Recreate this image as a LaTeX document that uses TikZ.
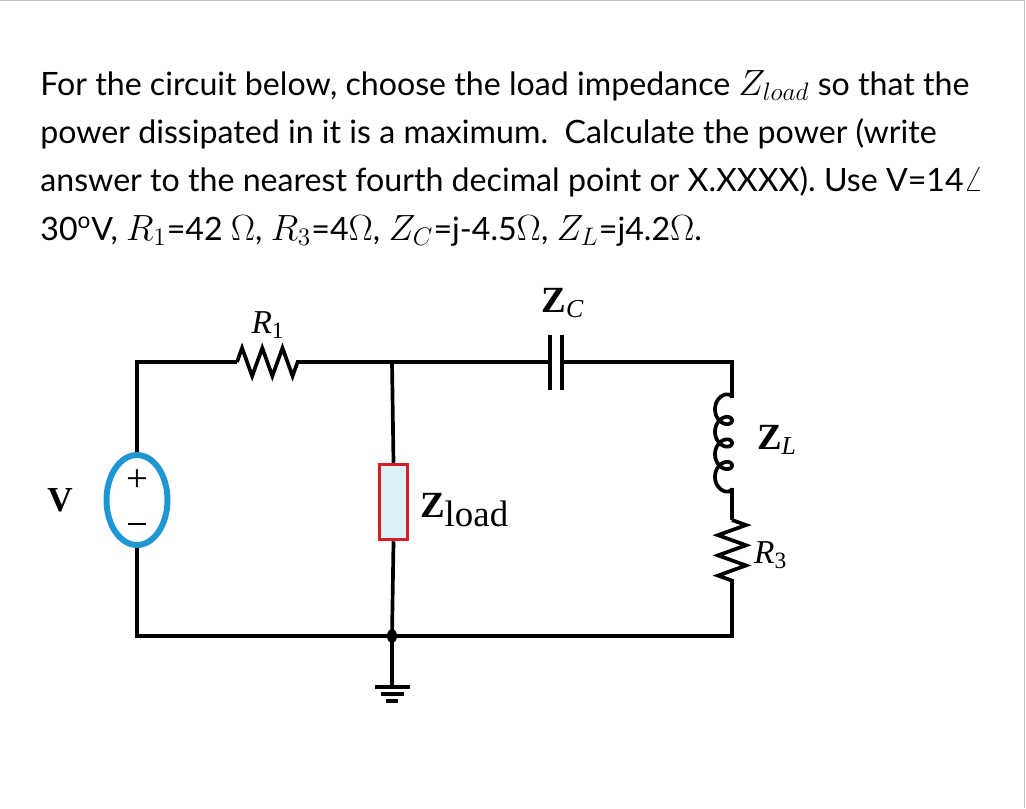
\documentclass[tikz,border=0pt]{standalone}
\usepackage{fontspec}
\setmainfont{Lato}
\newfontfamily\circfont{Liberation Serif}
\usetikzlibrary{decorations.pathmorphing,shapes.geometric}
\newcommand{\mth}[1]{\scalebox{1.2}{$#1$}}
\begin{document}
\begin{tikzpicture}[x=0.02cm,y=-0.02cm]
    \tikzset{W/.style={draw=black,line width=2.1pt}}
    \tikzset{TXT/.style={anchor=base west,inner sep=0pt,font=\fontsize{18.3}{20}\selectfont}}
    \tikzset{LB/.style={inner sep=1pt,font=\circfont\fontsize{19}{21}\selectfont}}
    \tikzset{ZZ/.style={W,decorate,decoration={zigzag,segment length=11.5,amplitude=8}}}

    \useasboundingbox (0,0) rectangle (1026,808);
    \draw[gray!50,line width=0.8pt] (0,0.5) -- (1024.5,0.5) -- (1024.5,808);

    % question text
    \node[TXT] (l1) at (40,95) {For the circuit below, choose the load impedance \mth{Z_{load}} so that the};
    \node[TXT] (l2) at (40,143) {power dissipated in it is a maximum.\ \ Calculate the power (write};
    \node[TXT] (l3) at (40,191) {answer to the nearest fourth decimal point or X.XXXX). Use V=14\mth{\angle}};
    \node[TXT] (l4) at (40,240) {30\textsuperscript{o}V, \mth{R_1}=42 \mth{\Omega}, \mth{R_3}=4\mth{\Omega}, \mth{Z_C}=j-4.5\mth{\Omega}, \mth{Z_L}=j4.2\mth{\Omega}.};

    % corners and junctions
    \coordinate (tl) at (137,362);
    \coordinate (tm) at (392,362);
    \coordinate (tr) at (732,362);
    \coordinate (bl) at (137,636);
    \coordinate (bm) at (392,636);
    \coordinate (br) at (732,636);
    \coordinate (r1a) at (237,362);
    \coordinate (r1b) at (306,362);
    \coordinate (ca) at (550,362);
    \coordinate (cb) at (562,362);
    \coordinate (la) at (732,398);
    \coordinate (lb) at (732,488);
    \coordinate (r3a) at (732,520);
    \coordinate (r3b) at (732,590);
    \coordinate (gnd) at (392,687);

    % source
    \node (src) [draw={rgb,255:red,30;green,150;blue,210},line width=3.4pt,ellipse,inner sep=0pt,
        minimum width=1.22cm,minimum height=1.8cm] at (137,500) {};
    \node (plus) at (137,481) {\circfont\fontsize{22}{24}\selectfont +};
    \node (minus) at (137,524) {\rule{10pt}{1.6pt}};
    \node (v) [LB,font=\circfont\bfseries\fontsize{20}{22}\selectfont] at (60,500) {V};

    % load box
    \node (zl) [draw={rgb,255:red,215;green,30;blue,40},line width=2pt,fill={rgb,255:red,220;green,240;blue,246},
        minimum width=0.56cm,minimum height=1.5cm,inner sep=0pt] at (393.5,502) {};
    \node (zll) [LB,anchor=west] at (418,510) {\fontsize{21}{23}\selectfont\textbf{Z}\raisebox{-0.5ex}{load}};

    % wires
    \draw[W] (src.north) -- (tl) -- (r1a);
    \draw[ZZ] (r1a) -- (r1b);
    \draw[W] (r1b) -- (ca);
    \draw[W] (cb) -- (tr) -- (la);
    \draw[W] (550,335) -- (550,390);
    \draw[W] (562,335) -- (562,390);
    \draw[W] plot[domain=0:25.13,samples=240,variable=\t] ({732-8.5*(1-cos(\t r))},{398+3.58*\t-8.5*sin(\t r)});
    \draw[W] (lb) -- (r3a);
    \draw[ZZ] (r3a) -- (r3b);
    \draw[W] (r3b) -- (br) -- (bl) -- (src.south);
    \draw[W] (tm) -- (zl.north);
    \draw[W] (zl.south) -- (bm) -- (gnd);
    \fill (bm) ellipse (5 and 7);
    \draw[W] (375,687) -- (410,687);
    \draw[W] (381,694) -- (404,694);
    \draw[W] (386,701) -- (398,701);

    % labels
    \node (r1) [LB] at (268,325) {\textit{R}\textsubscript{1}};
    \node (zc) [LB] at (563,303) {\fontsize{21}{23}\selectfont\textbf{Z}\textsubscript{\textit{C}}};
    \node (zlab) [LB,anchor=west] at (755,440) {\fontsize{21}{23}\selectfont\textbf{Z}\textsubscript{\textit{L}}};
    \node (r3) [LB,anchor=west] at (752,555) {\textit{R}\textsubscript{3}};
\end{tikzpicture}
\end{document}
